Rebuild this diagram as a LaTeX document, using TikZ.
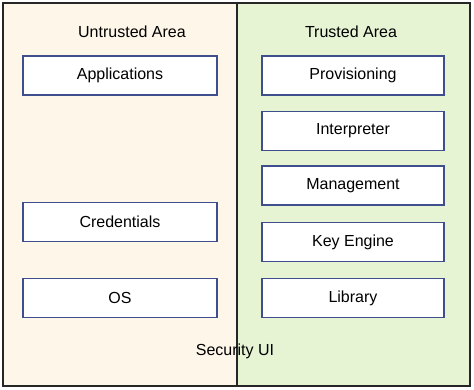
\documentclass[tikz,border=0pt]{standalone}
\usepackage{fontspec}
\setmainfont{Liberation Sans}
\usetikzlibrary{positioning}
\definecolor{untrfill}{HTML}{FDF6E9}
\definecolor{trfill}{HTML}{E6F4D4}
\definecolor{boxline}{HTML}{3F4E8C}

\begin{document}
\begin{tikzpicture}[x=1pt,y=1pt,
  area/.style={draw=black!85,line width=1.3pt,fill=#1,inner sep=0pt,minimum height=383pt},
  comp/.style={draw=boxline,line width=1.2pt,fill=white,inner sep=0pt,minimum height=39pt,minimum width=#1},
  comp/.default=194pt,
  lab/.style={font=\fontsize{16}{19}\selectfont}]
\useasboundingbox (0,0) rectangle (474,-389);
\node[area=untrfill,minimum width=234pt] (untr) at (120,-194.5) {};
\node[area=trfill,minimum width=233pt] (tr) at (353.5,-194.5) {};
\node[lab] (untrlab) at (132,-32) {Untrusted Area};
\node[lab] (trlab) at (351,-32) {Trusted Area};
% untrusted side
\node[comp,lab] (apps) at (120,-75.5) {Applications};
\node[comp,lab] (cred) at (120,-222) {Credentials};
\node[comp,lab] (os) at (120,-298) {OS};
% trusted side
\node[comp=182pt,lab] (prov) at (353,-75.5) {Provisioning};
\node[comp=182pt,lab] (interp) at (353,-131) {Interpreter};
\node[comp=182pt,lab] (mgmt) at (353,-185.5) {Management};
\node[comp=182pt,lab] (keyeng) at (353,-242) {Key Engine};
\node[comp=182pt,lab] (lib) at (353,-298) {Library};
\node[lab] (secui) at (235,-351) {Security UI};
\end{tikzpicture}
\end{document}
